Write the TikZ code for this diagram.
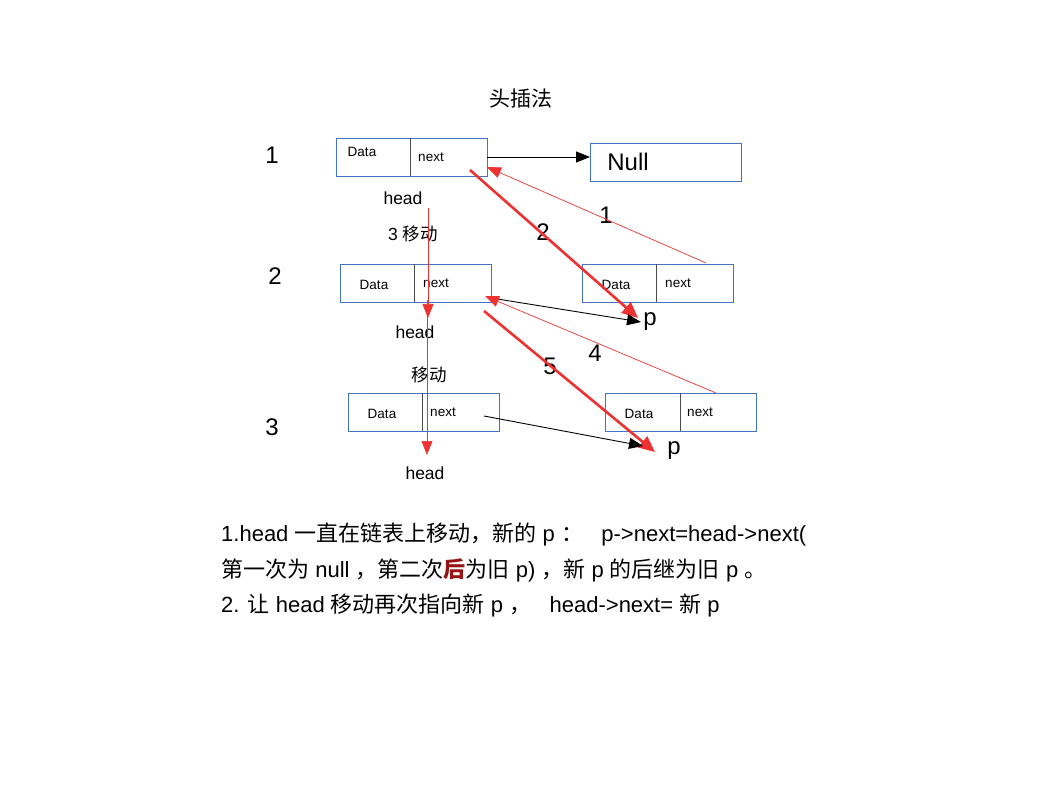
\documentclass[tikz,border=0pt]{standalone}
\usepackage{fontspec}
\setmainfont{Liberation Sans}
\newfontfamily\cjk{Noto Sans CJK SC}
\usetikzlibrary{arrows.meta}
\definecolor{bx}{RGB}{68,114,196}
\definecolor{rd}{RGB}{238,50,50}
\definecolor{dr}{RGB}{150,20,20}
\begin{document}
\begin{tikzpicture}[x=1pt,y=-1pt,
  bxs/.style={draw=bx,line width=0.7pt},
  dv/.style={draw=black!70,line width=0.7pt},
  blk/.style={-{Triangle[length=14pt,width=11pt]},line width=0.9pt},
  rthin/.style={rd,line width=0.7pt,-{Triangle[length=14pt,width=11pt]}},
  rthick/.style={rd,line width=2.6pt,-{Triangle[length=16pt,width=14pt]}},
  sm/.style={font=\fontsize{13.5}{16}\selectfont,inner sep=0pt},
  md/.style={font=\fontsize{17.5}{21}\selectfont,inner sep=0pt},
  lg/.style={font=\fontsize{24}{28}\selectfont,inner sep=0pt}]
\useasboundingbox (0,0) rectangle (1058,794);
% boxes
\draw[bxs] (336,138) rectangle (487,176); \draw[dv] (410,138)--(410,176);
\draw[bxs] (590,143) rectangle (741,181);
\draw[bxs] (340,264) rectangle (491,302); \draw[dv] (414,264)--(414,302);
\draw[bxs] (582,264) rectangle (733,302); \draw[dv] (656,264)--(656,302);
\draw[bxs] (348,393) rectangle (499,431); \draw[dv] (422,393)--(422,431);
\draw[bxs] (605,393) rectangle (756,431); \draw[dv] (680,393)--(680,431);
% box texts
\node[sm] (d1) at (362,152) {Data}; \node[sm] (n1) at (431,157) {next};
\node[lg] (nu) at (628,162) {Null};
\node[sm] (d2) at (374,285) {Data}; \node[sm] (n2) at (436,283) {next};
\node[sm] (d3) at (616,285) {Data}; \node[sm] (n3) at (678,283) {next};
\node[sm] (d4) at (382,414) {Data}; \node[sm] (n4) at (443,412) {next};
\node[sm] (d5) at (639,414) {Data}; \node[sm] (n5) at (700,412) {next};
% labels
\node[inner sep=0pt] (t) at (521,99) {\cjk\fontsize{21}{24}\selectfont 头插法};
\node[lg] (r1) at (272,155) {1};
\node[lg] (r2) at (275,276) {2};
\node[lg] (r3) at (272,427) {3};
\node[md] (h1) at (403,198) {head};
\node[md] (m1) at (413,234) {3 {\cjk 移动}};
\node[md] (h2) at (415,332) {head};
\node[md] (m2) at (429,375) {\cjk 移动};
\node[md] (h3) at (425,473) {head};
\node[lg] (p1) at (650,322) {p};
\node[lg] (p2) at (674,451) {p};
\node[lg] (a1) at (606,215) {1};
\node[lg] (a2) at (543,232) {2};
\node[lg] (a4) at (595,353) {4};
\node[lg] (a5) at (550,366) {5};
% connectors
\coordinate (s1) at (487,157); \coordinate (e1) at (590,157);
\draw[blk] (s1)--(e1);
\coordinate (s2) at (706,263); \coordinate (e2) at (487,167);
\draw[rthin] (s2)--(e2);
\coordinate (s3) at (470,170); \coordinate (e3) at (638,318);
\draw[rthick] (s3)--(e3);
\coordinate (s4) at (428,208); \coordinate (e4) at (428,318);
\draw[rthin] (s4)--(e4);
\coordinate (s5) at (427,300); \coordinate (e5) at (427,455);
\draw[rthin] (s5)--(e5);
\coordinate (s6) at (491,298); \coordinate (e6) at (641,322);
\draw[blk] (s6)--(e6);
\coordinate (s7) at (716,393); \coordinate (e7) at (485,296);
\draw[rthin] (s7)--(e7);
\coordinate (s8) at (484,311); \coordinate (e8) at (655,452);
\draw[rthick] (s8)--(e8);
\coordinate (s9) at (484,416); \coordinate (e9) at (643,446);
\draw[blk] (s9)--(e9);
% bottom text
\begin{scope}[every node/.style={anchor=west,inner sep=0pt,font=\fontsize{22}{26}\selectfont}]
\node (l1) at (221,534) {1.head {\cjk 一直在链表上移动，新的} p {\cjk ：} \ \ p->next=head->next(};
\node (l2) at (221,570) {{\cjk 第一次为} null {\cjk ，第二次\textcolor{dr}{\bfseries 后}为旧} p) {\cjk ，新} p {\cjk 的后继为旧} p {\cjk 。}};
\node (l3) at (221,605) {2. {\cjk 让} head {\cjk 移动再次指向新} p {\cjk ，} \ \ head->next= {\cjk 新} p};
\end{scope}
\end{tikzpicture}
\end{document}
